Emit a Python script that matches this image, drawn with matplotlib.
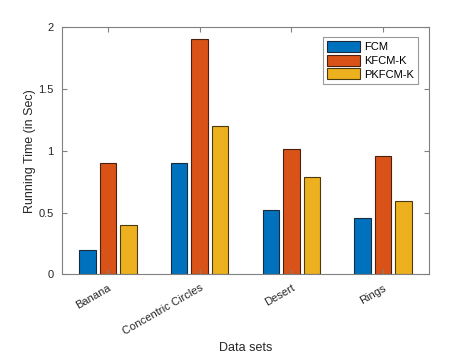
import matplotlib
matplotlib.use("Agg")
import matplotlib.pyplot as plt
import matplotlib.transforms as mtransforms
import numpy as np

plt.rcParams['font.family'] = ['Liberation Sans', 'DejaVu Sans']

datasets = ["Banana", "Concentric Circles", "Desert", "Rings"]
methods = ["FCM", "KFCM-K", "PKFCM-K"]
fcm = [0.20, 0.90, 0.52, 0.46]
kfcm = [0.90, 1.90, 1.01, 0.96]
pkfcm = [0.40, 1.20, 0.79, 0.59]
yticks = [0, 0.5, 1, 1.5, 2]
ytick_labels = ["0", "0.5", "1", "1.5", "2"]

colors = ["#0072BD", "#D95319", "#EDB120"]
edges = ["#1a2a3a", "#4a2010", "#4a3a10"]

fig = plt.figure(figsize=(4.74, 3.55), dpi=100)
ax = fig.add_axes([0.131, 0.227, 0.774, 0.697])

x = np.arange(1, len(datasets) + 1)
step = 0.223
w = 0.18
for i, (vals, name) in enumerate(zip([fcm, kfcm, pkfcm], methods)):
    ax.bar(x + (i - 1) * step, vals, width=w, color=colors[i],
           edgecolor=edges[i], linewidth=0.8, label=name)

ax.set_xlim(0.5, 4.5)
ax.set_ylim(0, 2)
ax.set_yticks(yticks)
ax.set_yticklabels(ytick_labels)
ax.set_xticks(x)
ax.set_xticklabels(datasets, rotation=30, ha="right", rotation_mode="anchor")
# shift rotated labels slightly right, like MATLAB does
offset = mtransforms.ScaledTranslation(6 / 72, 0, fig.dpi_scale_trans)
for lab in ax.get_xticklabels():
    lab.set_transform(lab.get_transform() + offset)

for s in ax.spines.values():
    s.set_color("#808080")
    s.set_linewidth(0.8)
ax.tick_params(direction="in", top=True, right=True, colors="#808080",
               labelcolor="#262626", labelsize=8, length=3.5, pad=6)

ax.set_xlabel("Data sets", fontsize=9, color="#262626")
ax.xaxis.set_label_coords(0.5, -0.275)
ax.set_ylabel("Running Time (in Sec)", fontsize=9, color="#262626")
ax.yaxis.set_label_coords(-0.072, 0.5)

leg = ax.legend(loc="upper right", fontsize=8, frameon=True, fancybox=False,
                edgecolor="#808080", handlelength=3.0, handleheight=1.1,
                handletextpad=0.3, borderpad=0.4, labelspacing=0.22,
                borderaxespad=0, bbox_to_anchor=(0.97, 0.96))
leg.get_frame().set_linewidth(0.8)

fig.savefig("out.png", dpi=100)
